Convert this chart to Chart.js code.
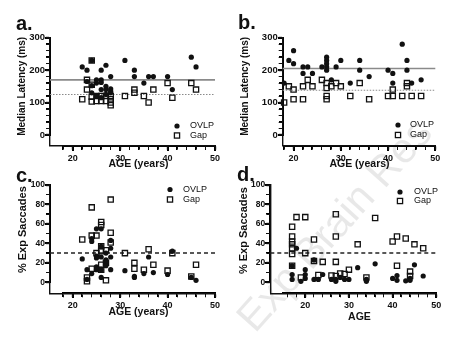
<!DOCTYPE html>
<html><head><meta charset="utf-8">
<script src="https://cdn.jsdelivr.net/npm/chart.js@4.4.1/dist/chart.umd.min.js"></script>
<style>
html,body{margin:0;padding:0;background:#fff;width:474px;height:351px;overflow:hidden;}
canvas{position:absolute;left:0;top:0;}
</style></head><body>
<canvas id="bg" width="474" height="351"></canvas>
<canvas id="ca" width="474" height="351"></canvas>
<canvas id="cb" width="474" height="351"></canvas>
<canvas id="cc" width="474" height="351"></canvas>
<canvas id="cd" width="474" height="351"></canvas>
<script>
// ---------- DATA ----------
const ageA_ovlp = [22,23,24,26,27,28,23,24,25,26,25,26,27,27,28,28,26,24,25,26,27,28,31,33,33,35,36,37,40,41,45,46];
const latA_ovlp = [210,200,230,200,215,180,165,152,170,170,160,162,150,140,142,135,140,130,120,115,125,130,230,200,180,160,180,180,180,140,240,210];
const ageA_gap  = [22,23,23,24,24,24,24,25,25,26,26,27,27,28,28,28,28,31,33,33,35,36,37,40,41,45,46];
const latA_gap  = [110,170,140,230,155,118,103,120,105,120,105,120,105,120,110,100,92,120,140,130,120,100,140,160,115,160,140];
const meanA = [170, 125];

const ageB_ovlp = [18,19,20,20,22,23,22,24,26,27,27,27,27,27,28,29,30,32,34,34,36,40,41,41,43,44,44,45,47];
const latB_ovlp = [160,230,260,220,210,210,190,190,210,240,230,220,210,200,170,210,230,160,230,200,180,200,190,160,280,230,200,160,170];
const ageB_gap  = [18,19,20,20,22,22,23,24,26,27,27,27,27,28,29,30,32,34,36,40,41,41,43,44,44,45,47];
const latB_gap  = [100,150,140,110,150,110,170,150,170,160,145,120,110,150,160,150,120,160,110,120,120,140,120,160,150,120,120];
const meanB = [205, 138];

const ageC_ovlp = [22,23,23,24,24,24,25,25,25,25,25,26,26,26,26,26,27,27,27,27,28,28,28,28,31,33,33,35,36,37,40,41,45,46];
const pctC_ovlp = [24,3,13,42,45,9,55,27,25,13,16,55,37,26,13,5,23,20,30,17,43,35,26,13,12,6,5,9,26,10,8,32,5,2];
const ageC_gap  = [22,23,23,24,24,24,25,25,26,26,26,26,26,26,27,27,27,28,28,28,31,33,33,35,36,37,40,41,45,46];
const pctC_gap  = [44,5,1,77,48,14,48,30,62,59,37,32,18,13,33,20,2,85,51,41,30,20,14,13,34,18,12,30,6,18];
const cutC = 30;

const ageD_ovlp = [17,17,17,18,19,20,20,20,22,22,23,24,26,27,27,28,29,30,32,34,34,36,40,41,41,43,44,44,45,47];
const pctD_ovlp = [17,8,3,35,1,4,13,8,23,3,3,8,3,1,3,5,3,3,15,1,3,19,4,7,2,1.5,4,2,18,6.5];
const ageD_gap  = [17,17,17,17,17,17,17,18,20,20,19,22,22,23,24,26,27,27,27,27,28,29,30,32,34,36,40,41,41,43,44,44,45,47];
const pctD_gap  = [57,47,42,39,35,29,17,67,67,30,5,44,22,7.5,21,7,70,47,21,6.5,9,8.5,13,39,5,66,42,47,17,45,11,6.5,39,35];
const cutD = 30;

const latTicks = [0,100,200,300];
const pctTicks = [0,20,40,60,80,100];
const ageTicks = [20,30,40,50];
const seriesNames = ['OVLP','Gap'];

const FONT = "'Liberation Sans', Arial, sans-serif";
const pts = (xv, yv) => xv.map((x,i)=>({x, y: yv[i]}));
const bgCtx = document.getElementById('bg').getContext('2d');
const range = (a, b, s) => { const r = []; for (let v = a; v <= b + 1e-6; v += s) r.push(Math.round(v * 1000) / 1000); return r; };

// detached axis lines + minor ticks, positioned through the chart's scales (background layer)
function drawFrame(ctx, chart, o) {
  const sx = chart.scales.x, sy = chart.scales.y;
  const R = Math.round;
  ctx.save();
  ctx.fillStyle = '#000';
  const yl = R(sx.getPixelForValue(sx.min));
  const xb = R(sy.getPixelForValue(sy.min));
  const yTop = R(sy.getPixelForValue(o.yMax)), yBot = R(sy.getPixelForValue(0));
  ctx.fillRect(yl - 1, yTop - 1, 2, yBot - yTop + 2);
  range(0, o.yMax, o.yMinor).forEach(v => {
    const major = Math.abs(v / o.yMajor - Math.round(v / o.yMajor)) < 1e-6;
    const py = R(sy.getPixelForValue(v));
    ctx.fillRect(yl - 1 - (major ? 4 : 3), py - 1, major ? 4 : 3, major ? 2 : 1);
  });
  const xL = R(sx.getPixelForValue(o.xStart)), xR = R(sx.getPixelForValue(o.xEnd));
  ctx.fillRect(xL - 1, xb - 1, xR - xL + 2, 2);
  range(Math.ceil(o.xStart / o.xMinor) * o.xMinor, o.xEnd, o.xMinor).forEach(v => {
    const major = Math.abs(v / o.xMajor - Math.round(v / o.xMajor)) < 1e-6;
    const px = R(sx.getPixelForValue(v));
    ctx.fillRect(px - 1, xb + 1, major ? 2 : 1, major ? 4 : 3);
  });
  ctx.restore();
}

const textPlugin = {
  id: 'paneltext',
  afterDraw(chart) {
    const o = chart.config.options.frameCfg;
    const ctx = chart.ctx;
    const sy = chart.scales.y;
    ctx.save();
    ctx.fillStyle = '#111';
    ctx.font = `bold 20px ${FONT}`;
    ctx.textAlign = 'left'; ctx.textBaseline = 'alphabetic';
    ctx.fillText(o.letter, o.letterX, o.letterY);
    ctx.font = `bold ${o.yTitleSize}px ${FONT}`;
    ctx.save();
    const cy = (sy.getPixelForValue(0) + sy.getPixelForValue(o.yMax)) / 2 + o.yTitleDy;
    ctx.translate(o.yTitleX, cy); ctx.rotate(-Math.PI/2);
    ctx.textAlign = 'center'; ctx.textBaseline = 'middle';
    ctx.fillText(o.yTitle, 0, 0);
    ctx.restore();
    ctx.font = `bold 10.5px ${FONT}`;
    ctx.textAlign = 'center'; ctx.textBaseline = 'alphabetic';
    ctx.fillText(o.xTitle, o.xTitleX, o.xTitleY);
    const L = o.legend;
    ctx.beginPath(); ctx.arc(L.x, L.y, 2.6, 0, Math.PI*2); ctx.fill();
    ctx.strokeStyle = '#111'; ctx.lineWidth = 1.3; ctx.setLineDash([]);
    ctx.strokeRect(L.x - 2.6, L.y + L.gap - 2.6, 5.2, 5.2);
    ctx.font = `9px ${FONT}`;
    ctx.textAlign = 'left'; ctx.textBaseline = 'middle';
    ctx.fillText(seriesNames[0], L.tx, L.y);
    ctx.fillText(seriesNames[1], L.tx, L.y + L.gap);
    ctx.restore();
  }
};

function makeChart(id, cfg) {
  const f = cfg.frame;
  const xAll = range(Math.ceil(f.xStart / f.xMinor) * f.xMinor, f.xEnd, f.xMinor);
  const yAll = range(0, f.yMax, f.yMinor);
  const datasets = [];
  cfg.lines.forEach(l => datasets.push({
    type: 'line', data: [{x: cfg.xmin, y: l.v}, {x: cfg.xEnd, y: l.v}],
    borderColor: l.color, borderWidth: l.width, borderDash: l.dash, pointRadius: 0, order: 5, clip: false
  }));
  datasets.push({
    label: seriesNames[1], data: cfg.gap, pointStyle: 'rect', pointRadius: 3.7,
    backgroundColor: 'rgba(0,0,0,0)', borderColor: '#111', borderWidth: 1.3, order: 2, clip: false
  });
  datasets.push({
    label: seriesNames[0], data: cfg.ovlp, pointStyle: 'circle', pointRadius: 2.6,
    backgroundColor: '#111', borderColor: '#111', borderWidth: 0, order: 1, clip: false
  });
  const chart = new Chart(document.getElementById(id), {
    type: 'scatter',
    data: { datasets },
    plugins: [textPlugin],
    options: {
      frameCfg: f,
      responsive: false, animation: false,
      layout: { padding: cfg.pad },
      plugins: { legend: { display: false }, tooltip: { enabled: false } },
      scales: {
        x: {
          type: 'linear', min: cfg.xmin, max: cfg.xEnd,
          grid: { display: true, drawOnChartArea: false, drawTicks: true, tickLength: 4, color: '#111',
                  tickWidth: c => (ageTicks.includes(c.tick && c.tick.value) ? 1.4 : 1) },
          border: { display: true, color: '#111', width: 1.4 },
          afterBuildTicks: s => { s.ticks = xAll.map(v => ({value: v})); },
          afterFit: s => { s.height = 20; },
          ticks: { padding: 3, color: '#111', autoSkip: false, maxRotation: 0,
                   callback: v => (ageTicks.includes(v) ? String(v) : ''),
                   font: { family: FONT, weight: 'bold', size: 9 }, includeBounds: false }
        },
        y: {
          type: 'linear', min: cfg.ymin, max: cfg.ymax,
          grid: { display: true, drawOnChartArea: false, drawTicks: true, tickLength: 4, color: '#111',
                  tickWidth: c => (cfg.yTicks.includes(c.tick && c.tick.value) ? 1.4 : 1) },
          border: { display: true, color: '#111', width: 1.4 },
          afterBuildTicks: s => { s.ticks = yAll.map(v => ({value: v})); },
          afterFit: s => { s.width = 30; },
          ticks: { padding: 1, color: '#111', autoSkip: false,
                   callback: v => (cfg.yTicks.includes(v) ? String(v) : ''),
                   font: { family: FONT, weight: 'bold', size: cfg.yTickSize }, includeBounds: false }
        }
      }
    }
  });
  drawFrame(bgCtx, chart, f);
  return chart;
}

const W = 474, H = 351;
function pad(left, right, top, bottom) {
  return { left: left - 30, right: W - right, top: top, bottom: H - bottom - 20 };
}

// faint journal watermark (background layer)
(function(){
  const c = bgCtx;
  c.save();
  c.translate(255, 334);
  c.rotate(Math.atan2(-232, 208));
  c.font = `42px ${FONT}`;
  c.fillStyle = 'rgba(0,0,0,0.09)';
  c.textBaseline = 'alphabetic';
  c.fillText('Exp Brain Res', 0, 0);
  c.restore();
})();

makeChart('ca', {
  xmin: 15.2, xEnd: 50, ymin: -33, ymax: 300, yTicks: latTicks, yTickSize: 9.5,
  pad: pad(50, 215, 37.7, 145.7),
  ovlp: pts(ageA_ovlp, latA_ovlp), gap: pts(ageA_gap, latA_gap),
  lines: [
    { v: meanA[0], color: '#8a8a8a', width: 1.6, dash: [] },
    { v: meanA[1], color: '#8a8a8a', width: 1.1, dash: [1.5, 1.5] }
  ],
  frame: { yMax: 300, yMajor: 100, yMinor: 20, xStart: 18, xEnd: 50, xMajor: 10, xMinor: 2,
    letter: 'a.', letterX: 16, letterY: 30, yTitle: 'Median Latency (ms)', yTitleSize: 10, yTitleX: 22, yTitleDy: 0,
    xTitle: 'AGE (years)', xTitleX: 138.5, xTitleY: 167,
    legend: { x: 177, y: 126, gap: 9.5, tx: 190 } }
});
makeChart('cb', {
  xmin: 17.7, xEnd: 50, ymin: -33, ymax: 300, yTicks: latTicks, yTickSize: 9.5,
  pad: pad(282.7, 435.3, 37.7, 145.7),
  ovlp: pts(ageB_ovlp, latB_ovlp), gap: pts(ageB_gap, latB_gap),
  lines: [
    { v: meanB[0], color: '#8a8a8a', width: 1.6, dash: [] },
    { v: meanB[1], color: '#8a8a8a', width: 1.1, dash: [1.5, 1.5] }
  ],
  frame: { yMax: 300, yMajor: 100, yMinor: 20, xStart: 18, xEnd: 50, xMajor: 10, xMinor: 2,
    letter: 'b.', letterX: 238, letterY: 29, yTitle: 'Median Latency (ms)', yTitleSize: 10, yTitleX: 245, yTitleDy: 0,
    xTitle: 'AGE (years)', xTitleX: 359.5, xTitleY: 167,
    legend: { x: 398, y: 125, gap: 10, tx: 410 } }
});
makeChart('cc', {
  xmin: 15.2, xEnd: 50, ymin: -11.3, ymax: 100, yTicks: pctTicks, yTickSize: 8.5,
  pad: pad(50, 215, 185, 293.3),
  ovlp: pts(ageC_ovlp, pctC_ovlp), gap: pts(ageC_gap, pctC_gap),
  lines: [ { v: cutC, color: '#222', width: 1.5, dash: [4, 3] } ],
  frame: { yMax: 100, yMajor: 20, yMinor: 10, xStart: 18, xEnd: 50, xMajor: 10, xMinor: 2,
    letter: 'c.', letterX: 16, letterY: 182, yTitle: '% Exp Saccades', yTitleSize: 11, yTitleX: 23, yTitleDy: -4,
    xTitle: 'AGE (years)', xTitleX: 138.5, xTitleY: 315,
    legend: { x: 170, y: 189.5, gap: 10, tx: 183 } }
});
makeChart('cd', {
  xmin: 12.0, xEnd: 50, ymin: -11.3, ymax: 100, yTicks: pctTicks, yTickSize: 8.5,
  pad: pad(270.3, 436.3, 185, 293.3),
  ovlp: pts(ageD_ovlp, pctD_ovlp), gap: pts(ageD_gap, pctD_gap),
  lines: [ { v: cutD, color: '#222', width: 1.5, dash: [4, 3] } ],
  frame: { yMax: 100, yMajor: 20, yMinor: 10, xStart: 15, xEnd: 50, xMajor: 10, xMinor: 2,
    letter: 'd.', letterX: 237, letterY: 181, yTitle: '% Exp Saccades', yTitleSize: 11, yTitleX: 244, yTitleDy: -3,
    xTitle: 'AGE', xTitleX: 359.5, xTitleY: 319.5,
    legend: { x: 400, y: 192, gap: 9, tx: 414 } }
});
</script>
</body></html>
